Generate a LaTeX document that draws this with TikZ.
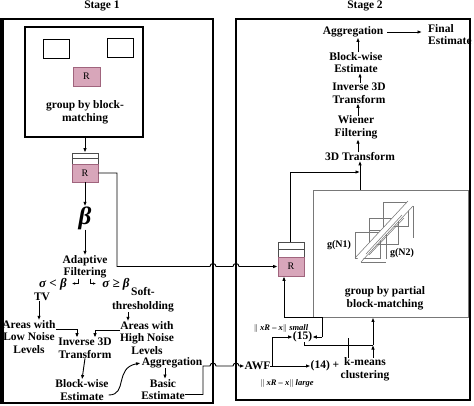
\documentclass[tikz,border=0pt]{standalone}
\usepackage{fontspec}
\setmainfont{Liberation Serif}
\usetikzlibrary{arrows.meta}
\definecolor{pinkfill}{RGB}{216,166,186}
\definecolor{pinkdraw}{RGB}{160,100,125}
\definecolor{thingray}{RGB}{120,120,120}
\tikzset{
  lbl/.style={font=\fontsize{11.5}{12.5}\selectfont\bfseries, align=center, inner sep=0pt},
  sml/.style={font=\fontsize{10}{12}\selectfont\bfseries, inner sep=0pt},
  nrm/.style={font=\fontsize{8.5}{10}\selectfont\bfseries\itshape, inner sep=0pt},
  grk/.style={font=\fontsize{13}{13}\selectfont\bfseries\itshape, inner sep=0pt},
  arr/.style={-{Latex[length=4.5pt,width=3.5pt]}, line width=0.9pt},
  tinyarr/.style={-{Latex[length=3pt,width=2.5pt]}, line width=0.8pt},
  ln/.style={line width=0.9pt},
  frame/.style={draw, line width=2pt, inner sep=0pt},
  inbox/.style={draw, line width=1.1pt, inner sep=0pt},
  pbox/.style={draw=thingray, line width=0.9pt, inner sep=0pt},
  plainbox/.style={draw, line width=1pt, inner sep=0pt},
  stripbox/.style={draw=black!70, fill=white, line width=0.7pt, inner sep=0pt},
  pinkr/.style={draw=pinkdraw, fill=pinkfill, line width=0.6pt, inner sep=0pt,
    font=\fontsize{10}{12}\selectfont},
  sq/.style={draw=thingray, line width=0.55pt},
}
\begin{document}
\begin{tikzpicture}[x=1pt,y=-1pt]
\useasboundingbox (0,0) rectangle (474,405);

% titles
\node[lbl] (st1) at (102,6) {Stage 1};
\node[lbl] (st2) at (365,6) {Stage 2};

% frames
\node[frame, minimum width=210pt, minimum height=384pt] (fr1) at (108,211) {};
\node[frame, minimum width=234pt, minimum height=381pt] (fr2) at (353,209.5) {};
\draw[line width=3.2pt] (fr1.north west) -- (fr1.south west);

% ---------- Stage 1 ----------
\node[inbox, minimum width=118pt, minimum height=110pt] (gb1) at (84,82) {};
\node[plainbox, minimum width=26pt, minimum height=19pt] (b1) at (56,48.5) {};
\node[plainbox, minimum width=26pt, minimum height=19pt] (b2) at (120,47.5) {};
\node[pinkr, minimum width=27pt, minimum height=19pt] (rA) at (86.5,76.5) {R};
\node[lbl] (gbt) at (85,112.5) {group by block-\\matching};

\node[stripbox, minimum width=26pt, minimum height=5.5pt] (sL1) at (85,155.75) {};
\node[stripbox, minimum width=26pt, minimum height=5.5pt] (sL2) at (85,161.25) {};
\node[pinkr, minimum width=26pt, minimum height=18pt] (rL) at (85,173) {R};
\draw[arr] (gb1.south -| sL1.north) -- (sL1.north);

\node[inner sep=0pt, font=\fontsize{25}{25}\selectfont\bfseries\itshape] (beta) at (85,218) {β};
\draw[arr] (rL.south) -- (beta.north);

\node[lbl] (af) at (85,267) {Adaptive\\Filtering};
\draw[arr] (beta.south) -- (af.north);
\coordinate (e1) at (72,283.5);
\coordinate (e2) at (96,283.5);
\draw[tinyarr] ([xshift=-7pt]af.south) |- (e1);
\draw[tinyarr] ([xshift=5pt]af.south) |- (e2);

\node[grk] (slt) at (53,284.5) {σ < β};
\node[grk] (sge) at (116,284.5) {σ ≥ β};
\node[lbl] (tv) at (42,297) {TV};
\node[lbl] (soft) at (143,299.5) {Soft-\\[1.5pt]thresholding};

\node[lbl] (lown) at (29,337) {Areas with\\Low Noise\\Levels};
\node[lbl] (highn) at (147,338) {Areas with\\High Noise\\Levels};
\draw[arr] ([xshift=-3pt]tv.south) -- ([xshift=-3pt]tv.south |- lown.north);
\draw[arr] ([xshift=-15pt]soft.south) -- ([xshift=-15pt]soft.south |- highn.north);

\node[lbl] (inv1) at (85,348) {Inverse 3D\\Transform};
\draw[arr] ([yshift=8pt]lown.east) -| ([xshift=-8pt]inv1.north);
\draw[arr] ([yshift=8pt]highn.west) -| ([xshift=10pt]inv1.north);

\node[lbl] (blk1) at (82,390) {Block-wise\\Estimate};
\draw[arr] (inv1.south) -- (blk1.north);

\node[lbl] (agg1) at (172,363) {Aggregation};
\node[lbl] (bas) at (163,389.5) {Basic\\Estimate};
\draw[arr] ([xshift=-7pt]agg1.south) -- ([xshift=-7pt]agg1.south |- bas.north);
\draw[arr] ([yshift=-5pt]blk1.east) .. controls (128,395) and (114,368) .. ([xshift=-1pt]agg1.west);

% ---------- Stage 2 ----------
\node[stripbox, minimum width=26pt, minimum height=7.5pt] (sR1) at (291,245.75) {};
\node[stripbox, minimum width=26pt, minimum height=7.5pt] (sR2) at (291,253.25) {};
\node[pinkr, minimum width=26pt, minimum height=19pt] (rR) at (291,266.5) {R};

% R (stage 1) to R (stage 2), hopping over frames
\draw[arr] (rL.east) -- (117,173) -- (117,266.5) -- (210,266.5)
  arc[start angle=180, end angle=0, radius=3pt] -- (233,266.5)
  arc[start angle=180, end angle=0, radius=3pt] -- (rR.west);

\node[pbox, minimum width=155pt, minimum height=127pt] (pbm) at (390.5,253.5) {};
\node[lbl] (pbmt) at (385,298.5) {group by partial\\block-matching};

% partial block-matching sketch
\draw[sq] (383,202) rectangle (408,226);
\draw[sq] (369,218) rectangle (398,244);
\draw[sq] (355,232) rectangle (380,258);
\draw[sq] (370,230) -- (386,230) -- (386,259);
\fill[white] (356,257) -- (408,201) -- (413,206) -- (361,261) -- cycle;
\draw[sq] (355,258) -- (408,201);
\draw[sq] (361,262) -- (413,206);
\draw[sq] (366,254) -- (402,215);
\draw[sq] (369,255) -- (404,218);
\draw[sq] (361,262) -- (386,262);
\draw[sq] (413,206) -- (413,238);
\node[sml] (gn1) at (339,245) {g(N1)};
\node[sml] (gn2) at (402,253) {g(N2)};

\node[lbl] (t3d) at (360,156.5) {3D Transform};
\coordinate (jn) at (360,172);
\draw[arr] ([xshift=-1pt]sR1.north) |- (jn);
\draw[arr] (pbm.north -| jn) -- (t3d.south);

\node[lbl] (wf) at (356,127.5) {Wiener\\Filtering};
\draw[arr] ([xshift=-2pt]t3d.north) -- ([xshift=-2pt]t3d.north |- wf.south);
\node[lbl] (inv2) at (359,93) {Inverse 3D\\Transform};
\draw[arr] ([xshift=2pt]wf.north) -- ([xshift=2pt]wf.north |- inv2.south);
\node[lbl] (bw2) at (356,62.5) {Block-wise\\Estimate};
\draw[arr] ([xshift=1pt]inv2.north) -- ([xshift=1pt]inv2.north |- bw2.south);
\node[lbl] (agg2) at (353,32) {Aggregation};
\draw[arr] ([xshift=2pt]bw2.north) -- ([xshift=2pt]bw2.north |- agg2.south);
\node[lbl, align=left, anchor=west] (fin) at (428,34.5) {Final\\Estimate};
\draw[arr, shorten >=6pt] ([xshift=4pt]agg2.east) -- (agg2.east -| fin.west);

% bottom right
\node[nrm] (sm) at (281,328) {$\|$ xR – x$\|$ small};
\node[nrm] (lg) at (287,383) {$\|$ xR – x$\|$ large};
\node[lbl] (awf) at (257.5,366) {AWF};
\node[lbl] (p15) at (302.5,337) {(15)};
\node[lbl] (p14) at (325,366) {(14) +};
\node[lbl] (km) at (365,369.5) {k-means\\clustering};

% Stage 1 basic estimate to AWF, hopping over frames
\draw[arr] ([yshift=-5pt]bas.east) -| (203,366) -- (210,366)
  arc[start angle=180, end angle=0, radius=3pt] -- (233,366)
  arc[start angle=180, end angle=0, radius=3pt] -- (awf.west);

\draw[arr] (awf.east) -- (p14.west);
\coordinate (aj) at (272,366);
\draw[arr] (aj) |- (p15.west);
\coordinate (c15) at (322,337);
\draw[arr] (c15) -- (p15.east);
\draw[arr] (c15) -- (322,317) -| ([xshift=-7pt]rR.south);
\coordinate (kj) at (373,345);
\draw[ln] ([xshift=2pt]p15.south) |- (kj);
\draw[arr] (kj) -- (kj |- pbm.south);
\draw[arr] (km.north -| kj) -- (kj);
\coordinate (tk) at (348,338);
\draw[ln] (km.north -| tk) -- (tk);
\end{tikzpicture}
\end{document}
